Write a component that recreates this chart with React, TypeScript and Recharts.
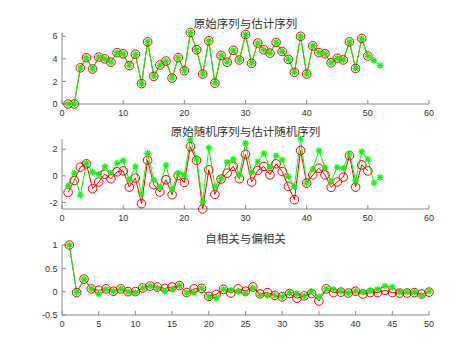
import React from 'react'
import { LineChart, Line, XAxis, YAxis } from 'recharts'

// original series (t = 1..50) and the two forecast steps past it
const original = [
  0, 0, 3.2, 4.1, 3.1, 4.15, 4.0, 3.7, 4.55, 4.45,
  3.4, 4.4, 1.8, 5.5, 2.45, 3.45, 3.8, 2.3, 4.1, 2.95,
  6.33, 4.8, 2.65, 5.6, 1.85, 4.3, 3.7, 4.75, 3.9, 6.15,
  3.6, 5.4, 4.8, 4.5, 5.45, 4.65, 3.95, 2.8, 6.0, 2.65,
  5.15, 4.55, 4.45, 3.65, 4.05, 3.9, 5.5, 3.15, 5.8, 4.25,
]
const forecastTail = [3.85, 3.4]

const origRandom = [
  -1.25, -0.35, 0.65, 0.9, -0.97, -0.47, 0.12, -0.22, 0.3, 0.37,
  -0.85, -0.17, -2.1, 1.17, -0.67, -1.22, -0.3, -1.42, 0.02, -0.5,
  2.2, 1.17, -2.5, 0.45, -1.4, -0.25, 0.2, 0.72, -0.22, 1.62,
  -0.47, 0.4, 0.7, 0.07, 0.9, 0.32, -0.8, -1.8, 1.9, -0.55,
  0.07, 0.57, 0.07, -0.87, -0.47, -0.1, 1.52, -0.85, 0.82, 0.37,
]
const estRandom = [
  -0.75, 0.2, -1.47, 0.95, 0.27, 0.12, 0.7, 0.2, 0.95, 1.15,
  -0.3, 0.7, -1.37, 1.7, -0.3, -0.85, 0.82, -1.0, 0.2, 0.07,
  2.7, 1.27, -1.97, 2.12, -0.8, -0.22, 1.02, 1.25, 0.07, 2.45,
  0.25, 1.07, 1.7, 0.65, 1.52, 1.2, -0.05, -0.8, 2.77, -0.55,
  0.5, 1.9, 0.62, -0.42, 0.65, 0.57, 1.7, -0.37, 1.82, 1.25,
  -0.55, -0.12,
]

const acf = [
  1.0, -0.02, 0.27, 0.06, 0.03, 0.06, 0.01, 0.06, 0, 0,
  0.08, 0.12, 0.1, 0.07, 0.1, 0.13, -0.02, 0.06, 0.07, -0.1,
  -0.06, 0.05, -0.03, 0.06, 0.01, 0.1, -0.05, -0.02, -0.08, -0.11,
  -0.04, -0.14, -0.09, -0.04, -0.2, 0.06, -0.02, -0.01, -0.03, 0.01,
  -0.05, -0.02, -0.02, 0.03, -0.02, -0.03, -0.03, -0.02, -0.05, -0.01,
]
const pacf = [
  1.0, -0.02, 0.27, 0.06, -0.05, 0.05, 0.01, 0.06, 0, -0.02,
  0.08, 0.12, 0.08, 0.01, 0.05, 0.13, -0.03, -0.03, 0.07, -0.11,
  -0.14, 0.05, 0.03, 0.01, -0.04, 0.08, -0.08, -0.08, -0.08, -0.11,
  -0.02, -0.04, -0.09, 0.01, -0.11, 0.06, 0.05, 0.01, -0.03, 0.01,
  -0.01, 0.03, 0.05, 0.12, 0.1, -0.01, -0.01, -0.01, -0.08, 0.01,
]

const xTicksWide = [0, 10, 20, 30, 40, 50, 60]
const xTicksLag = [0, 5, 10, 15, 20, 25, 30, 35, 40, 45, 50]

const toPoints = (vals: number[]) => vals.map((v, i) => ({ x: i + 1, y: v }))

const RED = '#ff0000'
const GREEN = '#00ff00'
const AXIS = '#8a8a8a'
const TEXT = '#333333'

const Circle = (p: any) => {
  if (p.cx == null || p.cy == null) return null
  return <circle key={p.key ?? `c${p.index}`} cx={p.cx} cy={p.cy} r={4.3} fill="none" stroke={RED} strokeWidth={1} />
}

const Star = (p: any) => {
  if (p.cx == null || p.cy == null) return null
  const s = 3.2
  const d = s * 0.72
  const { cx, cy } = p
  return (
    <g key={p.key ?? `s${p.index}`} stroke={GREEN} strokeWidth={1.3}>
      <line x1={cx - s} y1={cy} x2={cx + s} y2={cy} />
      <line x1={cx} y1={cy - s} x2={cx} y2={cy + s} />
      <line x1={cx - d} y1={cy - d} x2={cx + d} y2={cy + d} />
      <line x1={cx - d} y1={cy + d} x2={cx + d} y2={cy - d} />
    </g>
  )
}

const tickStyle = { fontSize: 9, fill: TEXT, fontFamily: 'Liberation Sans, Arial, sans-serif' }

interface PanelProps {
  top: number
  height: number
  plotTop: number
  plotBottom: number
  title: string
  titleY: number
  xDomain: [number, number]
  xTicks: number[]
  yDomain: [number, number]
  yTicks: number[]
  red: { x: number; y: number }[]
  green: { x: number; y: number }[]
}

function Panel({ top, height, plotTop, plotBottom, title, titleY, xDomain, xTicks, yDomain, yTicks, red, green }: PanelProps) {
  const xh = top + height - plotBottom
  return (
    <div style={{ position: 'absolute', left: 0, top, width: 474, height }}>
      <div
        style={{
          position: 'absolute',
          left: 62,
          width: 367,
          top: titleY - top - 8,
          height: 16,
          lineHeight: '16px',
          textAlign: 'center',
          fontSize: 11.5,
          color: TEXT,
          fontFamily: '"Noto Sans CJK SC", sans-serif',
          whiteSpace: 'nowrap',
        }}
      >
        {title}
      </div>
      <LineChart width={474} height={height} margin={{ top: plotTop - top, right: 45, bottom: 0, left: 0 }}>
        <XAxis
          xAxisId="b"
          type="number"
          dataKey="x"
          domain={xDomain}
          ticks={xTicks}
          height={xh}
          stroke={AXIS}
          tickSize={-4}
          tickMargin={10}
          tick={tickStyle}
        />
        <XAxis
          xAxisId="t"
          orientation="top"
          type="number"
          dataKey="x"
          domain={xDomain}
          ticks={xTicks}
          height={0}
          stroke={AXIS}
          tickSize={-4}
          tickFormatter={() => ''}
        />
        <YAxis
          yAxisId="l"
          type="number"
          domain={yDomain}
          ticks={yTicks}
          width={62}
          stroke={AXIS}
          tickSize={-4}
          tickMargin={8.5}
          tick={tickStyle}
        />
        <YAxis
          yAxisId="r"
          orientation="right"
          type="number"
          domain={yDomain}
          ticks={yTicks}
          width={0}
          stroke={AXIS}
          tickSize={-4}
          tickFormatter={() => ''}
        />
        <Line
          xAxisId="b"
          yAxisId="l"
          data={red}
          dataKey="y"
          type="linear"
          stroke={RED}
          strokeWidth={1}
          dot={Circle}
          activeDot={false}
          isAnimationActive={false}
        />
        <Line
          xAxisId="b"
          yAxisId="l"
          data={green}
          dataKey="y"
          type="linear"
          stroke={GREEN}
          strokeWidth={1}
          dot={Star}
          activeDot={false}
          isAnimationActive={false}
        />
      </LineChart>
    </div>
  )
}

export default function App() {
  return (
    <div style={{ position: 'absolute', left: 0, top: 0, width: 474, height: 355, background: '#fff' }}>
      <Panel
        top={0}
        height={120}
        plotTop={32.5}
        plotBottom={104}
        title="原始序列与估计序列"
        titleY={23}
        xDomain={[0, 60]}
        xTicks={xTicksWide}
        yDomain={[0, 6.33]}
        yTicks={[0, 2, 4, 6]}
        red={toPoints(original)}
        green={toPoints([...original, ...forecastTail])}
      />
      <Panel
        top={120}
        height={106}
        plotTop={139}
        plotBottom={209}
        title="原始随机序列与估计随机序列"
        titleY={131}
        xDomain={[0, 60]}
        xTicks={xTicksWide}
        yDomain={[-2.5, 2.77]}
        yTicks={[-2, 0, 2]}
        red={toPoints(origRandom)}
        green={toPoints(estRandom)}
      />
      <Panel
        top={226}
        height={129}
        plotTop={245}
        plotBottom={315}
        title="自相关与偏相关"
        titleY={237.5}
        xDomain={[0, 50]}
        xTicks={xTicksLag}
        yDomain={[-0.5, 1]}
        yTicks={[-0.5, 0, 0.5, 1]}
        red={toPoints(acf)}
        green={toPoints(pacf)}
      />
    </div>
  )
}
